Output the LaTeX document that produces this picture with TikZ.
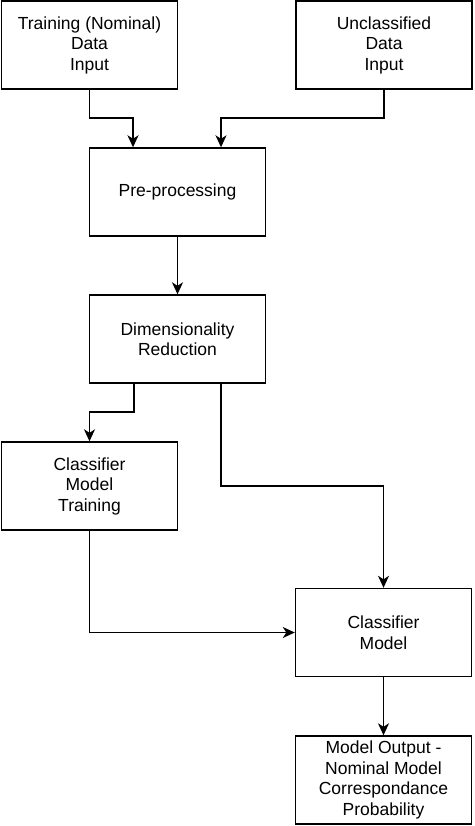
\documentclass[tikz,border=0pt]{standalone}
\usepackage{fontspec}
\setmainfont{Liberation Sans}
\usetikzlibrary{arrows.meta,calc}
\begin{document}
\begin{tikzpicture}[x=1pt,y=-1pt,
  box/.style={draw, line width=1.4pt, minimum width=176pt, minimum height=88pt, inner sep=0pt, align=center, font=\fontsize{17.5}{20.5}\selectfont, text=black},
  arr/.style={line width=1.4pt, -{Stealth[length=12pt,width=11pt,inset=3.5pt]}}]
\useasboundingbox (0,0) rectangle (474,826);
\node[box] (b1) at (89.5,45) {Training (Nominal)\\Data\\Input};
\node[box] (b2) at (384,45) {Unclassified\\Data\\Input};
\node[box] (b3) at (177.5,192) {Pre-processing};
\node[box] (b4) at (177.5,339) {Dimensionality\\Reduction};
\node[box] (b5) at (89.5,486) {Classifier\\Model\\Training};
\node[box] (b6) at (383.5,632.5) {Classifier\\Model};
\node[box] (b7) at (383.5,780) {Model Output -\\Nominal Model\\Correspondance\\Probability};
\coordinate (j1) at (133,118);
\coordinate (j2) at (221,118);
\coordinate (j3) at (134,412);
\coordinate (j4) at (221,486);
\draw[arr] (b1.south) |- (j1) -- (j1 |- b3.north);
\draw[arr] (b2.south) |- (j2) -- (j2 |- b3.north);
\draw[arr] (b3.south) -- (b4.north);
\draw[arr] (j3 |- b4.south) -- (j3) -| (b5.north);
\draw[arr] (j4 |- b4.south) -- (j4) -| (b6.north);
\draw[arr] (b5.south) |- (b6.west);
\draw[arr] (b6.south) -- (b7.north);
\end{tikzpicture}
\end{document}
